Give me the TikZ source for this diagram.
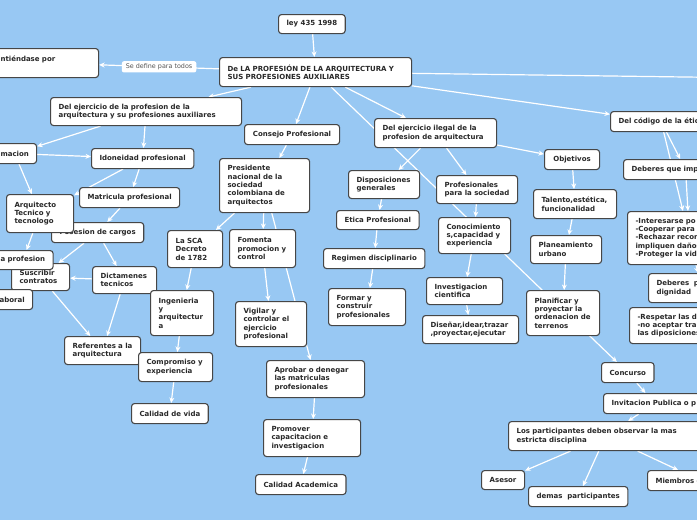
\documentclass[tikz,border=0pt]{standalone}
\usepackage{fontspec}
\setmainfont{DejaVu Sans}
\usetikzlibrary{arrows.meta,backgrounds,positioning}

\definecolor{sky}{RGB}{152,200,243}
\definecolor{ink}{RGB}{40,40,40}
\definecolor{rim}{RGB}{70,70,70}
\definecolor{hintgray}{RGB}{85,85,85}

\tikzset{
  topic/.style={draw=rim, fill=white, line width=1.1pt, rounded corners=3pt,
    anchor=north west, inner xsep=8pt, inner ysep=1pt, text=ink,
    font=\fontsize{7}{8.4}\selectfont\bfseries, align=center},
  note/.style={topic, align=left},
  hint/.style={fill=white, rounded corners=2pt, text=hintgray,
    font=\fontsize{6.4}{7.5}\selectfont, inner xsep=4pt, inner ysep=2.5pt},
  link/.style={draw=white, line width=1.2pt, -{Stealth[length=5.5pt,width=5pt]}}
}

\begin{document}
\begin{tikzpicture}[x=1pt, y=-1pt]
  \useasboundingbox (0,0) rectangle (697,520);
  \begin{scope}[on background layer]
    \fill[sky] (0,0) rectangle (697,520);
  \end{scope}

  % top of the map
  \node[topic, minimum width=66pt, minimum height=19pt] (ley) at (278,14) {ley 435 1998};
  \node[note, text width=176pt, minimum height=29pt] (root) at (219,57) {De LA PROFESIÓN DE LA ARQUITECTURA Y\\SUS PROFESIONES AUXILIARES};
  \node[note, text width=90pt, minimum height=29pt] (entiendase) at (-8,48) {ntiéndase por\\\mbox{}};
  \coordinate (offright) at (760,78);

  % ejercicio de la profesion
  \node[note, text width=175pt, minimum height=28pt] (ejercicio) at (50,97) {Del ejercicio de la profesion de la\\arquitectura y su profesiones auxiliares};
  \node[note, text width=28pt, minimum height=20pt] (macion) at (-8,143) {macion};
  \node[topic, minimum width=102pt, minimum height=20pt] (idoneidad) at (91,148) {Idoneidad profesional};
  \node[topic, minimum width=99pt, minimum height=20pt] (matricula) at (79,187) {Matricula profesional};
  \node[topic, minimum width=91pt, minimum height=20pt] (posesion) at (51,222) {Posesion de cargos};
  \node[note, text width=51pt, minimum height=38pt] (arquitecto) at (6,194) {Arquitecto\\Tecnico y\\tecnologo};
  \node[note, text width=42pt, minimum height=27pt] (suscribir) at (11,263) {Suscribir\\contratos};
  \node[note, minimum height=19pt] (aprofesion) at (-8,250) {a profesion};
  \node[note, minimum height=20pt] (laboral) at (-9,289) {aboral};
  \node[note, text width=48pt, minimum height=27pt] (dictamenes) at (92,266) {Dictamenes\\tecnicos};
  \node[note, text width=60pt, minimum height=28pt] (referentes) at (64,336) {Referentes a la\\arquitectura};

  % consejo profesional
  \node[topic, minimum width=95pt, minimum height=20pt] (consejo) at (244,124) {Consejo Profesional};
  \node[note, text width=74pt, minimum height=54pt] (presidente) at (219,158) {Presidente\\nacional de la\\sociedad\\colombiana de\\arquitectos};
  \node[note, text width=39pt, minimum height=37pt] (sca) at (167,230) {La SCA\\Decreto\\de 1782};
  \node[note, text width=50pt, minimum height=38pt] (fomenta) at (229,229) {Fomenta\\promocion y\\control};
  \node[note, text width=47pt, minimum height=45pt] (ingenieria) at (150,290) {Ingenieria\\y\\arquitectur\\a};
  \node[note, text width=55pt, minimum height=45pt] (vigilar) at (235,301) {Vigilar y\\controlar el\\ejercicio\\profesional};
  \node[note, text width=58pt, minimum height=29pt] (compromiso) at (138,352) {Compromiso y\\experiencia};
  \node[topic, minimum width=76pt, minimum height=20pt] (calidadvida) at (131,403) {Calidad de vida};
  \node[note, text width=82pt, minimum height=37pt] (aprobar) at (266,360) {Aprobar o denegar\\las matriculas\\profesionales};
  \node[note, text width=81pt, minimum height=37pt] (promover) at (263,419) {Promover\\capacitacion e\\investigacion};
  \node[topic, minimum width=90pt, minimum height=20pt] (academica) at (255,474) {Calidad Academica};

  % ejercicio ilegal
  \node[note, text width=106pt, minimum height=29pt] (ilegal) at (374,118) {Del ejercicio ilegal de la\\profesion de arquitectura};
  \node[note, text width=55pt, minimum height=28pt] (disposiciones) at (348,170) {Disposiciones\\generales};
  \node[topic, minimum width=82pt, minimum height=19pt] (etica) at (336,210) {Etica Profesional};
  \node[topic, minimum width=101pt, minimum height=20pt] (regimen) at (323,248) {Regimen disciplinario};
  \node[note, text width=61pt, minimum height=37pt] (formar) at (328,288) {Formar y\\construir\\profesionales};
  \node[note, text width=65pt, minimum height=28pt] (profesionales) at (436,175) {Profesionales\\para la sociedad};
  \node[note, text width=56pt, minimum height=36pt] (conocimiento) at (438,217) {Conocimiento\\s,capacidad y\\experiencia};
  \node[note, text width=60pt, minimum height=27pt] (investigacion) at (426,277) {Investigacion\\cientifica};
  \node[note, text width=80pt, minimum height=28pt] (disenar) at (422,315) {Diseñar,idear,trazar\\,proyectar,ejecutar};
  \node[topic, minimum width=55pt, minimum height=20pt] (objetivos) at (544,149) {Objetivos};
  \node[note, text width=67pt, minimum height=29pt] (talento) at (533,189) {Talento,estética,\\funcionalidad};
  \node[note, text width=55pt, minimum height=28pt] (planeamiento) at (530,235) {Planeamiento\\urbano};
  \node[note, text width=57pt, minimum height=45pt] (planificar) at (526,290) {Planificar y\\proyectar la\\ordenacion de\\terrenos};

  % codigo de la etica
  \node[note, minimum width=100pt, minimum height=20pt] (codigo) at (610,111) {Del código de la ética};
  \node[note, text width=108pt, minimum height=20pt] (deberes) at (623,159) {Deberes que imp};
  \node[note, text width=108pt, minimum height=53pt] (interesarse) at (627,211) {-Interesarse po\\-Cooperar para\\-Rechazar recom\\impliquen daños\\-Proteger la vida};
  \node[note, text width=90pt, minimum height=29pt] (dignidad) at (648,273) {Deberes\ \ p\\dignidad};
  \node[note, text width=94pt, minimum height=36pt] (respetar) at (629,307) {-Respetar las d\\-no aceptar trab\\las diposiciones};

  % concurso
  \node[topic, minimum width=52pt, minimum height=20pt] (concurso) at (601,362) {Concurso};
  \node[note, text width=86pt, minimum height=20pt] (invitacion) at (603,393) {Invitacion Publica o p};
  \node[note, text width=178pt, minimum height=29pt] (participantes) at (508,421) {Los participantes deben observar la mas\\estricta disciplina};
  \node[topic, minimum width=43pt, minimum height=19pt] (asesor) at (481,470) {Asesor};
  \node[topic, minimum width=99pt, minimum height=20pt] (demas) at (528,486) {demas\ \ participantes};
  \node[note, text width=90pt, minimum height=20pt] (miembros) at (647,470) {Miembros d};

  \begin{scope}[on background layer]
    \draw[link] (ley) -- (root);
    \draw[link] (root) -- node[hint] {Se define para todos} (entiendase);
    \draw[link] (root) -- (ejercicio);
    \draw[link] (root) -- (consejo);
    \draw[link] (root) -- (ilegal);
    \draw[link] (root) -- (codigo);
    \draw[link] (root) -- (offright);
    \draw[link] (root) -- (concurso);

    \draw[link] (ejercicio) -- (macion);
    \draw[link] (ejercicio) -- (idoneidad);
    \draw[link] (macion) -- (idoneidad);
    \draw[link] (macion) -- (arquitecto);
    \draw[link] (idoneidad) -- (arquitecto);
    \draw[link] (idoneidad) -- (matricula);
    \draw[link] (matricula) -- (posesion);
    \draw[link] (arquitecto) -- (aprofesion);
    \draw[link] (posesion) -- (suscribir);
    \draw[link] (posesion) -- (dictamenes);
    \draw[link] (dictamenes) -- (suscribir);
    \draw[link] (suscribir) -- (referentes);
    \draw[link] (dictamenes) -- (referentes);

    \draw[link] (consejo) -- (presidente);
    \draw[link] (presidente) -- (sca);
    \draw[link] (presidente) -- (fomenta);
    \draw[link] (presidente) -- (aprobar);
    \draw[link] (sca) -- (ingenieria);
    \draw[link] (ingenieria) -- (compromiso);
    \draw[link] (compromiso) -- (calidadvida);
    \draw[link] (fomenta) -- (vigilar);
    \draw[link] (aprobar) -- (promover);
    \draw[link] (promover) -- (academica);

    \draw[link] (ilegal) -- (disposiciones);
    \draw[link] (ilegal) -- (profesionales);
    \draw[link] (ilegal) -- (objetivos);
    \draw[link] (disposiciones) -- (etica);
    \draw[link] (etica) -- (regimen);
    \draw[link] (regimen) -- (formar);
    \draw[link] (profesionales) -- (conocimiento);
    \draw[link] (conocimiento) -- (investigacion);
    \draw[link] (investigacion) -- (disenar);
    \draw[link] (objetivos) -- (talento);
    \draw[link] (talento) -- (planeamiento);
    \draw[link] (planeamiento) -- (planificar);

    \draw[link] (codigo) -- (deberes);
    \draw[link] (codigo) -- (interesarse);
    \draw[link] (deberes) -- (interesarse);
    \draw[link] (interesarse) -- (dignidad);

    \draw[link] (concurso) -- (invitacion);
    \draw[link] (invitacion) -- (participantes);
    \draw[link] (participantes) -- (asesor);
    \draw[link] (participantes) -- (demas);
    \draw[link] (participantes) -- (miembros);
  \end{scope}
\end{tikzpicture}
\end{document}
